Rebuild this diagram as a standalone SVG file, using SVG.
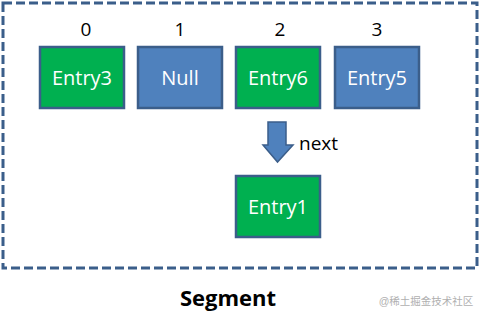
<svg xmlns="http://www.w3.org/2000/svg" width="481" height="320" viewBox="0 0 481 320">
<style>
.box rect{stroke:#3B5E8A;stroke-width:2.5}
.g{fill:#00B050}
.b{fill:#4F81BD}
.lbl{font-family:"Open Sans","Liberation Sans",sans-serif;font-size:20px;fill:#fff;text-anchor:middle}
.idx{font-family:"Open Sans","Liberation Sans",sans-serif;font-size:19px;fill:#000;text-anchor:middle}
</style>
<rect width="481" height="320" fill="#fff"/>
<rect x="3" y="3" width="474" height="265" fill="none" stroke="#3B5E8A" stroke-width="3" stroke-dasharray="9,4"/>
<g id="idx">
<text class="idx" x="86" y="36">0</text>
<text class="idx" x="180" y="36">1</text>
<text class="idx" x="280" y="36">2</text>
<text class="idx" x="377" y="36">3</text>
</g>
<g id="entry3" class="box"><rect class="g" x="40" y="47" width="84" height="61"/><text class="lbl" x="82" y="85">Entry3</text></g>
<g id="null" class="box"><rect class="b" x="138" y="47" width="84" height="61"/><text class="lbl" x="180" y="85">Null</text></g>
<g id="entry6" class="box"><rect class="g" x="236" y="47" width="84" height="61"/><text class="lbl" x="278" y="85">Entry6</text></g>
<g id="entry5" class="box"><rect class="b" x="335" y="47" width="84" height="61"/><text class="lbl" x="377" y="85">Entry5</text></g>
<g id="entry1" class="box"><rect class="g" x="236" y="176" width="84" height="61"/><text class="lbl" x="278" y="214">Entry1</text></g>
<g id="connectors">
<path d="M268,122 H286 V145 H293 L277.5,162 L263,145 H268 Z" fill="#4F81BD" stroke="#3B5E8A" stroke-width="1.5"/>
<text x="299" y="150" font-family="'Open Sans','Liberation Sans',sans-serif" font-size="19" fill="#000">next</text>
</g>
<text x="228" y="306" font-family="'Open Sans','Liberation Sans',sans-serif" font-size="22" font-weight="bold" fill="#000" text-anchor="middle">Segment</text>
<text x="426" y="305" font-family="'Liberation Sans','Noto Sans CJK SC',sans-serif" font-size="10.5" fill="#b0b0b0" text-anchor="middle">@稀土掘金技术社区</text>
</svg>
